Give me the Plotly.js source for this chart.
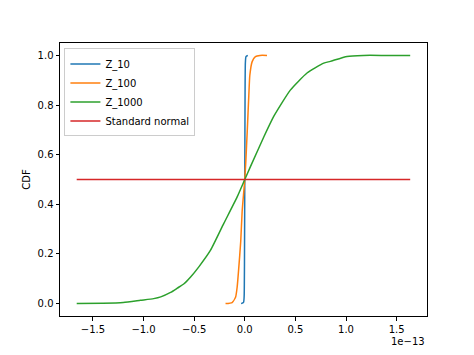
<!DOCTYPE html>
<html>
<head>
<meta charset="utf-8">
<script src="https://cdn.plot.ly/plotly-3.0.1.min.js"></script>
<style>html,body{margin:0;padding:0;background:#fff;}</style>
</head>
<body>
<div id="chart" style="width:474px;height:355px;"></div>
<script>
// x values are in units of 1e-13
const z10X = [-0.036, -0.012, -0.006, -0.003, 0.0, 0.003, 0.006, 0.012, 0.030];
const z10Y = [0.0, 0.005, 0.03, 0.15, 0.5, 0.85, 0.97, 0.995, 1.0];

const z100X = [-0.19, -0.125, -0.09, -0.075, -0.06, -0.04, -0.026, -0.01, 0.0, 0.01, 0.025, 0.04, 0.05, 0.073, 0.105, 0.15, 0.22];
const z100Y = [0.0, 0.004, 0.027, 0.067, 0.14, 0.25, 0.37, 0.45, 0.5, 0.57, 0.7, 0.84, 0.92, 0.975, 0.995, 1.0, 1.0];

const z1000X = [-1.66, -1.4, -1.2, -1.03, -0.9, -0.83, -0.733, -0.667, -0.6, -0.535, -0.45, -0.338, -0.207, -0.075, 0.0, 0.056, 0.19, 0.286, 0.45, 0.615, 0.78, 0.845, 1.01, 1.17, 1.4, 1.634];
const z1000Y = [0.0, 0.001, 0.004, 0.013, 0.02, 0.027, 0.045, 0.062, 0.08, 0.107, 0.15, 0.215, 0.323, 0.43, 0.5, 0.552, 0.673, 0.754, 0.86, 0.929, 0.969, 0.976, 0.996, 1.0, 1.0, 1.0];

const normX = [-1.66, 1.634];
const normY = [0.5, 0.5];

const xTicks = [-1.5, -1.0, -0.5, 0.0, 0.5, 1.0, 1.5];
const yTicks = [0.0, 0.2, 0.4, 0.6, 0.8, 1.0];
const names = ['Z_10', 'Z_100', 'Z_1000', 'Standard normal'];
const colors = ['#1f77b4', '#ff7f0e', '#2ca02c', '#d62728'];

const series = [[z10X, z10Y], [z100X, z100Y], [z1000X, z1000Y], [normX, normY]];
const traces = series.map((s, i) => ({
  x: s[0], y: s[1], type: 'scatter', mode: 'lines', name: names[i],
  line: {color: colors[i], width: 1.5, shape: 'spline', smoothing: 0.5}
}));

const font = {family: 'DejaVu Sans, sans-serif', size: 10, color: '#000'};
const layout = {
  width: 474, height: 355,
  margin: {l: 60, r: 47, t: 43, b: 39},
  paper_bgcolor: '#fff', plot_bgcolor: '#fff',
  font: font,
  showlegend: true,
  legend: {x: 0.012, y: 0.98, xanchor: 'left', yanchor: 'top',
    bordercolor: '#cccccc', borderwidth: 1, bgcolor: 'rgba(255,255,255,0.8)',
    font: font, tracegroupgap: 0, itemwidth: 30},
  xaxis: {range: [-1.825, 1.80], tickvals: xTicks, tickformat: '.1f',
    showline: true, mirror: true, linecolor: '#000', linewidth: 1,
    ticks: 'outside', ticklen: 3.5, tickcolor: '#000', showgrid: false, zeroline: false},
  yaxis: {range: [-0.05, 1.05], tickvals: yTicks, tickformat: '.1f',
    showline: true, mirror: true, linecolor: '#000', linewidth: 1,
    ticks: 'outside', ticklen: 3.5, tickcolor: '#000', showgrid: false, zeroline: false,
    title: {text: 'CDF', font: font, standoff: 5}},
  annotations: [{text: '1e\u221213', xref: 'paper', yref: 'paper', x: 1, y: -0.094,
    xanchor: 'right', yanchor: 'middle', showarrow: false, font: font}]
};
Plotly.newPlot('chart', traces, layout, {staticPlot: true, displayModeBar: false});
</script>
</body>
</html>
